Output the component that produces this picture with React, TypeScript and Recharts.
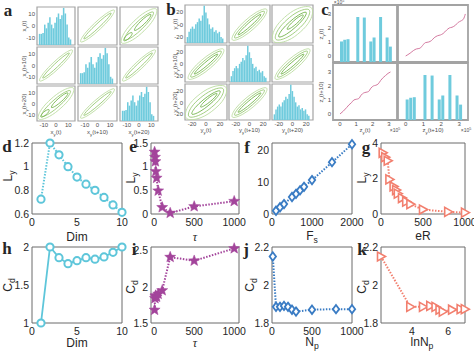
import type { ReactNode } from 'react'
import { Bar, ComposedChart, Line, ReferenceArea, XAxis, YAxis } from 'recharts'

const CYAN = '#5ec6da'
const MAGENTA = '#a3449b'
const BLUE = '#3a7cc4'
const SALMON = '#f27f6e'
const HIST = '#6fcbdd'
const GREENS = ['#bcdda2', '#98ca74', '#74b44c']
const PINK = '#d47aa0'
const CELL_FRAME = '#a3a3a3'
const BOX = '#6b6b6b'
const INK = '#262626'

// ---- a: x_y embedding, histogram on the diagonal ----
const aBins = [-13.3, -11.9, -10.5, -9.1, -7.7, -6.3, -4.9, -3.5, -2.1, -0.7, 0.7, 2.1, 3.5, 4.9, 6.3, 7.7, 9.1, 10.5, 11.9]
const aCounts = [12, 12, 13, 22, 18, 24, 30, 22, 18, 24, 30, 34, 28, 32, 40, 34, 22, 8, 6]
// density contours, lag 10 and lag 20 (closed outlines)
const aLag10 = [
  [[-16, -16], [-10.2, -5.8], [-2.4, 2.4], [5.8, 10.2], [16, 16], [10.2, 5.8], [2.4, -2.4], [-5.8, -10.2]],
  [[-13, -13], [-7.6, -5.4], [-1.2, 1.2], [5.4, 7.6], [13, 13], [7.6, 5.4], [1.2, -1.2], [-5.4, -7.6]],
]
const aLag20 = [
  [[-17, -17], [-12.3, -4.7], [-4.2, 4.2], [4.7, 12.3], [17, 17], [12.3, 4.7], [4.2, -4.2], [-4.7, -12.3]],
  [[-14, -14], [-9.3, -4.7], [-2.5, 2.5], [4.7, 9.3], [14, 14], [9.3, 4.7], [2.5, -2.5], [-4.7, -9.3]],
  [[-5, -5], [-2.2, 0.2], [1.7, 4.3], [5.8, 8.2], [11, 11], [8.2, 5.8], [4.3, 1.7], [0.2, -2.2]],
  [[-13, -13], [-12, -10], [-10.1, -7.9], [-8, -6], [-5, -5], [-6, -8], [-7.9, -10.1], [-10, -12]],
]

// ---- b: y_y embedding ----
const bBins = [-26.4, -24, -21.6, -19.2, -16.8, -14.4, -12, -9.6, -7.2, -4.8, -2.4, 0, 2.4, 4.8, 7.2, 9.6, 12, 14.4, 16.8, 19.2, 21.6, 24]
const bCounts = [8, 15, 19, 22, 19, 25, 28, 33, 30, 37, 50, 41, 33, 25, 19, 21, 15, 17, 13, 15, 8, 6]
const bLag10 = [
  [[-30, -30], [-21, -9], [-6.6, 6.6], [9, 21], [30, 30], [21, 9], [6.6, -6.6], [-9, -21]],
  [[-26, -26], [-16.8, -9.2], [-4.2, 4.2], [9.2, 16.8], [26, 26], [16.8, 9.2], [4.2, -4.2], [-9.2, -16.8]],
  [[-20, -20], [-11.8, -8.2], [-2, 2], [8.2, 11.8], [20, 20], [11.8, 8.2], [2, -2], [-8.2, -11.8]],
]
const bLag20 = [
  [[-33, -33], [-27.5, -5.5], [-12.1, 12.1], [5.5, 27.5], [33, 33], [27.5, 5.5], [12.1, -12.1], [-5.5, -27.5]],
  [[-29, -29], [-22, -7], [-8.3, 8.3], [7, 22], [29, 29], [22, 7], [8.3, -8.3], [-7, -22]],
  [[-24, -24], [-16, -8], [-4.4, 4.4], [8, 16], [24, 24], [16, 8], [4.4, -4.4], [-8, -16]],
  [[-10, -10], [-5, -1], [1.8, 6.2], [9, 13], [18, 18], [13, 9], [6.2, 1.8], [-1, -5]],
]

// ---- c: z_y embedding (x 10^5) ----
const cBins = [0.1, 0.3, 0.5, 1.1, 1.5, 1.9, 2.1, 2.5, 2.9, 3.1]
const cCounts = [36, 39, 40, 79, 78, 36, 43, 79, 43, 27]
const c12x = [0, 0.25, 0.45, 0.6, 0.8, 0.95, 1.1, 1.3, 1.45, 1.6, 1.8, 1.95, 2.1, 2.3, 2.45, 2.6, 2.8, 2.95, 3.1, 3.25, 3.35]
const c12y = [0, 0.2, 0.4, 0.5, 0.55, 0.75, 0.95, 1.0, 1.1, 1.3, 1.45, 1.5, 1.6, 1.85, 2.0, 2.05, 2.2, 2.4, 2.5, 2.65, 3.0]
const c21x = [0, 0.2, 0.4, 0.55, 0.7, 0.85, 1.0, 1.15, 1.3, 1.45, 1.6, 1.75, 1.9, 2.05, 2.2, 2.35, 2.5, 2.65, 2.8, 2.95, 3.1]
const c21y = [0, 0.2, 0.45, 0.65, 0.8, 1.0, 1.05, 1.1, 1.35, 1.5, 1.55, 1.6, 1.85, 2.0, 2.05, 2.15, 2.4, 2.6, 2.75, 2.9, 3.0]

// ---- d-k ----
const dim = [1, 2, 3, 4, 5, 6, 7, 8, 9, 10]
const lyDim = [0.725, 1.2, 1.1, 1.0, 0.912, 0.852, 0.8, 0.74, 0.677, 0.614]
const cdDim = [1.0, 2.0, 1.86, 1.78, 1.82, 1.86, 1.84, 1.87, 1.93, 2.0]
const tau = [5, 10, 15, 20, 30, 50, 100, 200, 500, 1000]
const lyTau = [1.31, 1.2, 1.11, 0.9, 0.76, 0.49, 0.14, 0.02, 0.16, 0.27]
const cdTau = [1.68, 1.84, 1.87, 1.88, 1.86, 1.9, 1.95, 2.41, 2.36, 2.53]
const fs = [100, 200, 300, 500, 600, 700, 800, 1000, 1500, 2000]
const lyFs = [1.0, 2.1, 3.1, 5.3, 6.3, 7.4, 8.5, 10.6, 16.2, 21.8]
const eR = [20, 50, 80, 100, 150, 180, 200, 250, 300, 350, 500, 800, 1000]
const lyER = [3.45, 3.2, 3.0, 1.95, 1.55, 1.35, 1.15, 0.9, 0.7, 0.55, 0.25, 0.12, 0.08]
const np = [10, 50, 100, 150, 200, 250, 300, 500, 800, 1000]
const lnNp = [2.3, 3.91, 4.61, 5.01, 5.3, 5.52, 5.7, 6.21, 6.68, 6.91]
const cdNp = [2.15, 1.885, 1.885, 1.89, 1.885, 1.87, 1.86, 1.87, 1.873, 1.873]

type Pt = { x: number; y: number }
const toPts = (arr: number[][]): Pt[] => arr.map(([x, y]) => ({ x, y }))
const zip = (xs: number[], ys: number[]): Pt[] => xs.map((x, i) => ({ x, y: ys[i] }))

type Curve = { pts: Pt[]; color: string; type: 'basisClosed' | 'monotone'; width: number }
type CellSpec = {
  l: number
  t: number
  r: number
  b: number
  xDomain: [number, number]
  yDomain: [number, number]
  xTicks: number[]
  yTicks: number[]
  showX: boolean
  showY: boolean
  hist?: { x: number; c: number }[]
  histMax?: number
  barSize?: number
  curves?: Curve[]
  frameWidth: number
}

const M = 2
function matrixCell(s: CellSpec, key: string) {
  const yw = s.showY ? 13 : 0
  const xh = s.showX ? 9 : 0
  const tick = { fontSize: 6, fill: '#4d4d4d' }
  return (
    <div key={key} style={{ position: 'absolute', left: s.l - yw - M, top: s.t - M }}>
      <ComposedChart
        width={s.r - s.l + yw + 2 * M}
        height={s.b - s.t + xh + 2 * M}
        data={s.hist}
        margin={{ top: M, right: M, bottom: M, left: M }}
      >
        <XAxis type="number" dataKey="x" domain={s.xDomain} ticks={s.xTicks} interval={0} allowDataOverflow hide={!s.showX} height={xh} tickSize={0} tickMargin={2} axisLine={false} tick={tick} />
        <YAxis type="number" domain={s.yDomain} ticks={s.yTicks} interval={0} allowDataOverflow hide={!s.showY} width={yw} tickSize={0} tickMargin={2} axisLine={false} tick={tick} />
        <YAxis yAxisId="cnt" type="number" domain={[0, s.histMax ?? 1]} hide allowDataOverflow />
        {s.hist && <Bar dataKey="c" yAxisId="cnt" fill={HIST} barSize={s.barSize} isAnimationActive={false} />}
        {(s.curves ?? []).map((c, i) => (
          <Line key={i} data={c.pts} dataKey="y" type={c.type} stroke={c.color} strokeWidth={c.width} dot={false} activeDot={false} isAnimationActive={false} />
        ))}
        <ReferenceArea x1={s.xDomain[0]} x2={s.xDomain[1]} y1={s.yDomain[0]} y2={s.yDomain[1]} fill="none" stroke={CELL_FRAME} strokeWidth={s.frameWidth} />
      </ComposedChart>
    </div>
  )
}

function contours(list: number[][][]): Curve[] {
  return list.map((c, i) => ({ pts: toPts(c), color: GREENS[Math.min(i, 2)], type: 'basisClosed', width: 0.9 }))
}

type Kind = 'circle' | 'star' | 'diamond' | 'tri'
function markerDot(kind: Kind, color: string) {
  return (p: any) => {
    const { cx, cy, index } = p
    if (cx == null || cy == null) return <g key={index} />
    if (kind === 'circle') return <circle key={index} cx={cx} cy={cy} r={3.6} fill="#fff" stroke={color} strokeWidth={2} />
    if (kind === 'diamond')
      return <polygon key={index} points={`${cx},${cy - 4.2} ${cx + 3.2},${cy} ${cx},${cy + 4.2} ${cx - 3.2},${cy}`} fill="#fff" stroke={color} strokeWidth={1.8} />
    if (kind === 'tri')
      return <polygon key={index} points={`${cx + 4.5},${cy} ${cx - 3.5},${cy - 4.5} ${cx - 3.5},${cy + 4.5}`} fill="#fff" stroke={color} strokeWidth={1.6} />
    const pts: string[] = []
    for (let k = 0; k < 10; k++) {
      const rad = k % 2 === 0 ? 5.8 : 2.5
      const a = -Math.PI / 2 + (k * Math.PI) / 5
      pts.push(`${cx + rad * Math.cos(a)},${cy + rad * Math.sin(a)}`)
    }
    return <polygon key={index} points={pts.join(' ')} fill={color} stroke={color} strokeWidth={0.5} />
  }
}

type PlotSpec = {
  l: number
  t: number
  r: number
  b: number
  xs: number[]
  ys: number[]
  xDomain: [number, number]
  yDomain: [number, number]
  xTicks: number[]
  yTicks: number[]
  color: string
  kind: Kind
  dashed: boolean
}

const LP = 8
const RP = 16
function linePlot(s: PlotSpec, key: string) {
  const yw = 30
  const xh = 20
  const tick = { fontSize: 10.5, fill: INK }
  return (
    <div key={key} style={{ position: 'absolute', left: s.l - yw - LP, top: s.t - LP }}>
      <ComposedChart
        width={s.r - s.l + yw + LP + RP}
        height={s.b - s.t + xh + 2 * LP}
        data={zip(s.xs, s.ys)}
        margin={{ top: LP, right: RP, bottom: LP, left: LP }}
      >
        <XAxis type="number" dataKey="x" domain={s.xDomain} ticks={s.xTicks} interval={0} height={xh} tickSize={0} tickMargin={5} axisLine={false} tick={tick} />
        <YAxis type="number" domain={s.yDomain} ticks={s.yTicks} interval={0} width={yw} tickSize={0} tickMargin={3} axisLine={false} tick={tick} />
        <ReferenceArea x1={s.xDomain[0]} x2={s.xDomain[1]} y1={s.yDomain[0]} y2={s.yDomain[1]} fill="none" stroke={BOX} strokeWidth={1} />
        <Line
          dataKey="y"
          type="linear"
          stroke={s.color}
          strokeWidth={s.dashed ? 2 : 1.8}
          strokeDasharray={s.dashed ? '1.5 1.5' : undefined}
          dot={markerDot(s.kind, s.color)}
          activeDot={false}
          isAnimationActive={false}
        />
      </ComposedChart>
    </div>
  )
}

function Txt({
  x,
  y,
  size,
  rotate,
  bold,
  serif,
  italic,
  color,
  children,
}: {
  x: number
  y: number
  size: number
  rotate?: boolean
  bold?: boolean
  serif?: boolean
  italic?: boolean
  color?: string
  children: ReactNode
}) {
  return (
    <div
      style={{
        position: 'absolute',
        left: x,
        top: y,
        transform: `translate(-50%, -50%)${rotate ? ' rotate(-90deg)' : ''}`,
        fontSize: size,
        fontWeight: bold ? 700 : 400,
        fontStyle: italic ? 'italic' : 'normal',
        fontFamily: serif ? '"Liberation Serif", "Times New Roman", serif' : '"Liberation Sans", Arial, sans-serif',
        color: color ?? INK,
        whiteSpace: 'nowrap',
        lineHeight: 1,
      }}
    >
      {children}
    </div>
  )
}
const Sub = ({ children }: { children: ReactNode }) => (
  <span style={{ fontSize: '0.72em', position: 'relative', top: '0.35em' }}>{children}</span>
)
const Sup = ({ children }: { children: ReactNode }) => (
  <span style={{ fontSize: '0.72em', position: 'relative', top: '-0.45em' }}>{children}</span>
)

const A_COLS = [[37, 75], [78, 117], [120, 158]]
const A_ROWS = [[7, 45], [47, 84], [86, 121]]
const B_COLS = [[185, 227], [229, 270], [272, 313]]
const B_ROWS = [[5, 43], [45, 82], [84, 120]]
const C_COLS = [[333, 397], [398, 468]]
const C_ROWS = [[5, 62], [63, 120]]

const lagNames = ['(t)', '(t+10)', '(t+20)']

export default function App() {
  const cells: ReactNode[] = []
  for (let i = 0; i < 3; i++) {
    for (let j = 0; j < 3; j++) {
      const lag = Math.abs(i - j)
      cells.push(
        matrixCell(
          {
            l: A_COLS[j][0], r: A_COLS[j][1], t: A_ROWS[i][0], b: A_ROWS[i][1],
            xDomain: [-15.5, 15.5], yDomain: [-16, 16], xTicks: [-10, 0, 10], yTicks: [-10, 0, 10],
            showX: i === 2, showY: j === 0,
            hist: lag === 0 ? zip(aBins, aCounts).map((p) => ({ x: p.x, c: p.y })) : undefined,
            histMax: 41, barSize: 2,
            curves: lag === 1 ? contours(aLag10) : lag === 2 ? contours(aLag20) : undefined,
            frameWidth: 1.2,
          },
          `a${i}${j}`,
        ),
      )
      cells.push(
        matrixCell(
          {
            l: B_COLS[j][0], r: B_COLS[j][1], t: B_ROWS[i][0], b: B_ROWS[i][1],
            xDomain: [-30, 30], yDomain: [-30, 32], xTicks: [-20, 0, 20], yTicks: [-20, 0, 20],
            showX: i === 2, showY: j === 0,
            hist: lag === 0 ? zip(bBins, bCounts).map((p) => ({ x: p.x, c: p.y })) : undefined,
            histMax: 51, barSize: 2,
            curves: lag === 1 ? contours(bLag10) : lag === 2 ? contours(bLag20) : undefined,
            frameWidth: 1.2,
          },
          `b${i}${j}`,
        ),
      )
    }
  }
  for (let i = 0; i < 2; i++) {
    for (let j = 0; j < 2; j++) {
      const diag = i === j
      const curve = i === 0 ? zip(c12x, c12y) : zip(c21x, c21y)
      cells.push(
        matrixCell(
          {
            l: C_COLS[j][0], r: C_COLS[j][1], t: C_ROWS[i][0], b: C_ROWS[i][1],
            xDomain: [-0.43, 3.5], yDomain: [-0.43, 3.64], xTicks: [0, 1, 2, 3], yTicks: [0, 1, 2, 3],
            showX: i === 1, showY: j === 0,
            hist: diag ? zip(cBins, cCounts).map((p) => ({ x: p.x, c: p.y })) : undefined,
            histMax: 100, barSize: 3,
            curves: diag ? undefined : [{ pts: curve, color: PINK, type: 'monotone', width: 1 }],
            frameWidth: 1.8,
          },
          `c${i}${j}`,
        ),
      )
    }
  }

  const plots: PlotSpec[] = [
    { l: 32, r: 122, t: 143, b: 214, xs: dim, ys: lyDim, xDomain: [0, 10], yDomain: [0.6, 1.2], xTicks: [0, 5, 10], yTicks: [0.6, 0.8, 1, 1.2], color: CYAN, kind: 'circle', dashed: true },
    { l: 151, r: 239, t: 143, b: 214, xs: tau, ys: lyTau, xDomain: [-40, 1060], yDomain: [0, 1.5], xTicks: [0, 500, 1000], yTicks: [0, 0.5, 1, 1.5], color: MAGENTA, kind: 'star', dashed: true },
    { l: 272, r: 352, t: 143, b: 214, xs: fs, ys: lyFs, xDomain: [0, 2000], yDomain: [0, 22.2], xTicks: [0, 1000, 2000], yTicks: [0, 10, 20], color: BLUE, kind: 'diamond', dashed: true },
    { l: 381, r: 465, t: 143, b: 214, xs: eR, ys: lyER, xDomain: [0, 1000], yDomain: [0, 4], xTicks: [0, 500, 1000], yTicks: [0, 2, 4], color: SALMON, kind: 'tri', dashed: true },
    { l: 32, r: 122, t: 247, b: 323, xs: dim, ys: cdDim, xDomain: [0, 10], yDomain: [1, 2], xTicks: [0, 5, 10], yTicks: [1, 1.5, 2], color: CYAN, kind: 'circle', dashed: false },
    { l: 151, r: 239, t: 247, b: 323, xs: tau, ys: cdTau, xDomain: [-40, 1060], yDomain: [1.5, 2.55], xTicks: [0, 500, 1000], yTicks: [1.5, 2, 2.5], color: MAGENTA, kind: 'star', dashed: true },
    { l: 272, r: 352, t: 247, b: 323, xs: np, ys: cdNp, xDomain: [0, 1000], yDomain: [1.8, 2.2], xTicks: [0, 500, 1000], yTicks: [1.8, 2, 2.2], color: BLUE, kind: 'diamond', dashed: true },
    { l: 381, r: 465, t: 247, b: 323, xs: lnNp, ys: cdNp, xDomain: [2.3, 6.92], yDomain: [1.8, 2.2], xTicks: [4, 6], yTicks: [1.8, 2, 2.2], color: SALMON, kind: 'tri', dashed: true },
  ]

  return (
    <div style={{ position: 'absolute', left: 0, top: 0, width: 474, height: 353, background: '#fff', overflow: 'hidden', fontFamily: '"Liberation Sans", Arial, sans-serif' }}>
      {cells}
      {plots.map((p, i) => linePlot(p, `p${i}`))}

      {/* matrix axis labels */}
      {A_COLS.map((c, j) => (
        <Txt key={`ax${j}`} x={(c[0] + c[1]) / 2} y={132} size={6} color="#4d4d4d">x<Sub>y</Sub>{lagNames[j]}</Txt>
      ))}
      {A_ROWS.map((r, i) => (
        <Txt key={`ay${i}`} x={24} y={(r[0] + r[1]) / 2} size={6} rotate color="#4d4d4d">x<Sub>y</Sub>{lagNames[i]}</Txt>
      ))}
      {B_COLS.map((c, j) => (
        <Txt key={`bx${j}`} x={(c[0] + c[1]) / 2} y={130} size={6} color="#4d4d4d">y<Sub>y</Sub>{lagNames[j]}</Txt>
      ))}
      {B_ROWS.map((r, i) => (
        <Txt key={`by${i}`} x={175} y={(r[0] + r[1]) / 2} size={6} rotate color="#4d4d4d">y<Sub>y</Sub>{lagNames[i]}</Txt>
      ))}
      {C_COLS.map((c, j) => (
        <Txt key={`cx${j}`} x={(c[0] + c[1]) / 2} y={130} size={6} color="#4d4d4d">z<Sub>y</Sub>{lagNames[j]}</Txt>
      ))}
      {C_ROWS.map((r, i) => (
        <Txt key={`cy${i}`} x={321} y={(r[0] + r[1]) / 2} size={6} rotate color="#4d4d4d">z<Sub>y</Sub>{lagNames[i]}</Txt>
      ))}
      <Txt x={339} y={2.5} size={5} color="#4d4d4d">×10<Sup>5</Sup></Txt>
      <Txt x={395} y={131} size={5} color="#4d4d4d">×10<Sup>5</Sup></Txt>
      <Txt x={466} y={131} size={5} color="#4d4d4d">×10<Sup>5</Sup></Txt>

      {/* line plot axis labels */}
      <Txt x={77} y={237} size={12}>Dim</Txt>
      <Txt x={195} y={237} size={12} serif italic>τ</Txt>
      <Txt x={312} y={236} size={12}>F<Sub>s</Sub></Txt>
      <Txt x={423} y={236} size={12}>eR</Txt>
      <Txt x={77} y={343} size={12}>Dim</Txt>
      <Txt x={195} y={343} size={12} serif italic>τ</Txt>
      <Txt x={312} y={342} size={12}>N<Sub>p</Sub></Txt>
      <Txt x={422} y={342} size={12}>lnN<Sub>p</Sub></Txt>
      <Txt x={8} y={176} size={12} rotate>L<Sub>y</Sub></Txt>
      <Txt x={131} y={178} size={12} rotate>L<Sub>y</Sub></Txt>
      <Txt x={362} y={178} size={12} rotate>L<Sub>y</Sub></Txt>
      <Txt x={8} y={285} size={12} rotate>C<Sub>d</Sub></Txt>
      <Txt x={131} y={287} size={12} rotate>C<Sub>d</Sub></Txt>
      <Txt x={250} y={285} size={12} rotate>C<Sub>d</Sub></Txt>
      <Txt x={362} y={287} size={12} rotate>C<Sub>d</Sub></Txt>

      {/* panel letters */}
      <Txt x={8} y={10} size={17} bold serif>a</Txt>
      <Txt x={171} y={9} size={17} bold serif>b</Txt>
      <Txt x={325} y={9} size={17} bold serif>c</Txt>
      <Txt x={7} y={146} size={17} bold serif>d</Txt>
      <Txt x={133} y={146} size={17} bold serif>e</Txt>
      <Txt x={247} y={147} size={17} bold serif>f</Txt>
      <Txt x={366} y={147} size={17} bold serif>g</Txt>
      <Txt x={7} y={248} size={17} bold serif>h</Txt>
      <Txt x={134} y={249} size={17} bold serif>i</Txt>
      <Txt x={246} y={249} size={17} bold serif>j</Txt>
      <Txt x={362} y={249} size={17} bold serif>k</Txt>
    </div>
  )
}
